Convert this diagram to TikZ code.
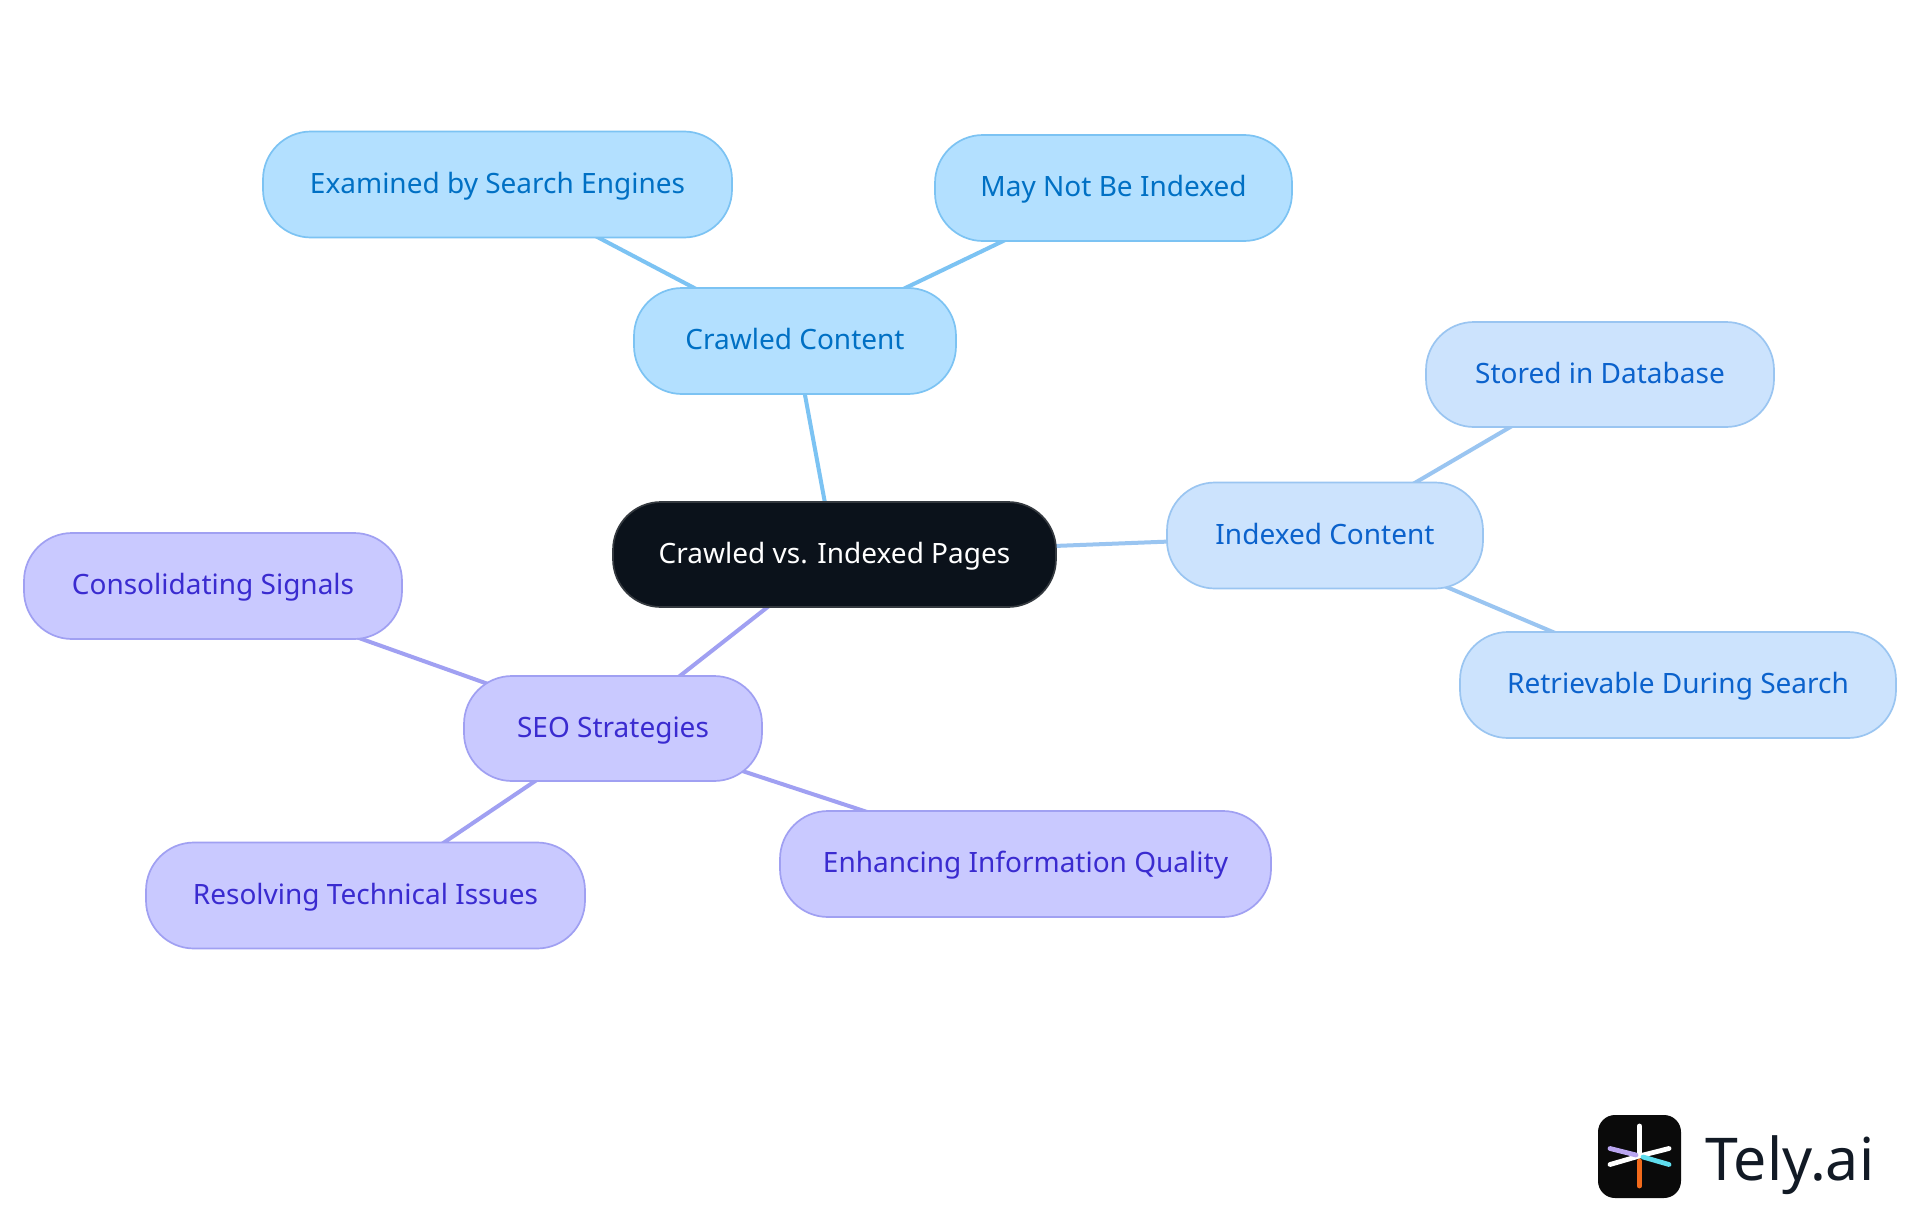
\documentclass[tikz,border=0pt]{standalone}
\usepackage{fontspec}
\setmainfont{Noto Sans}
\usetikzlibrary{backgrounds}
\definecolor{rootfill}{HTML}{0B121B}
\definecolor{rootline}{HTML}{34393F}
\definecolor{afill}{HTML}{B3E0FF}
\definecolor{aline}{HTML}{7CC3F3}
\definecolor{atext}{HTML}{0070C4}
\definecolor{bfill}{HTML}{CCE3FD}
\definecolor{bline}{HTML}{9AC5F1}
\definecolor{btext}{HTML}{0B62CC}
\definecolor{cfill}{HTML}{C9C9FF}
\definecolor{cline}{HTML}{A0A0F2}
\definecolor{ctext}{HTML}{3A2BD0}
\definecolor{logoorange}{HTML}{F26A1B}
\definecolor{logocyan}{HTML}{5FDDEE}
\definecolor{logolav}{HTML}{B9A5F0}
\definecolor{logodark}{HTML}{0A0A0A}
\definecolor{logotext}{HTML}{121A25}
\tikzset{
  x=1pt,y=-1pt,
  pill/.style={rounded corners=48pt,line width=1.7pt,inner sep=0pt,align=center,text height=22pt,text depth=5pt,font=\fontsize{28}{30}\selectfont},
  rootpill/.style={pill,draw=rootline,fill=rootfill,text=white},
  apill/.style={pill,draw=aline,fill=afill,text=atext},
  bpill/.style={pill,draw=bline,fill=bfill,text=btext},
  cpill/.style={pill,draw=cline,fill=cfill,text=ctext},
  aedge/.style={draw=aline,line width=4pt},
  bedge/.style={draw=bline,line width=4pt},
  cedge/.style={draw=cline,line width=4pt},
  spoke/.style={line width=4.8pt,line cap=round},
}
\begin{document}
\begin{tikzpicture}
\useasboundingbox (0,0) rectangle (1920,1215);
\node[rootpill,minimum width=443pt,minimum height=105pt] (root) at (834.5,554.5) {Crawled vs. Indexed Pages};
\node[apill,minimum width=322pt,minimum height=106pt] (crawled) at (795,341) {Crawled Content};
\node[apill,minimum width=469pt,minimum height=106pt] (examined) at (497.5,184.5) {Examined by Search Engines};
\node[apill,minimum width=357pt,minimum height=106pt] (maynot) at (1113.5,188) {May Not Be Indexed};
\node[bpill,minimum width=316pt,minimum height=106pt] (indexed) at (1325,535.5) {Indexed Content};
\node[bpill,minimum width=348pt,minimum height=105pt] (stored) at (1600,374.5) {Stored in Database};
\node[bpill,minimum width=436pt,minimum height=106pt] (retrieve) at (1678,685) {Retrievable During Search};
\node[cpill,minimum width=298pt,minimum height=105pt] (seo) at (613,728.5) {SEO Strategies};
\node[cpill,minimum width=378pt,minimum height=106pt] (consol) at (213,586) {Consolidating Signals};
\node[cpill,minimum width=439pt,minimum height=106pt] (resolve) at (365.5,895.5) {Resolving Technical Issues};
\node[cpill,minimum width=491pt,minimum height=106pt] (enhance) at (1025.5,864) {Enhancing Information Quality};
\begin{scope}[on background layer]
\fill[white] (0,0) rectangle (1920,1215);
\draw[aedge] (root.center) -- (crawled.center);
\draw[aedge] (crawled.center) -- (examined.center);
\draw[aedge] (crawled.center) -- (maynot.center);
\draw[bedge] (root.center) -- (indexed.center);
\draw[bedge] (indexed.center) -- (stored.center);
\draw[bedge] (indexed.center) -- (retrieve.center);
\draw[cedge] (root.center) -- (seo.center);
\draw[cedge] (seo.center) -- (consol.center);
\draw[cedge] (seo.center) -- (resolve.center);
\draw[cedge] (seo.center) -- (enhance.center);
\end{scope}
% logo
\fill[logodark,rounded corners=17pt] (1598,1115) rectangle (1681,1198);
\draw[spoke,white] (1639.3,1156) -- (1639.3,1126);
\draw[spoke,white] (1639.3,1156) -- (1610,1164.5);
\draw[spoke,white] (1639.3,1156) -- (1669,1148.5);
\draw[spoke,logolav] (1636,1155) -- (1610,1148.5);
\draw[spoke,logocyan] (1643,1157) -- (1669,1164.5);
\draw[spoke,logoorange] (1639.3,1161) -- (1639.3,1186);
\node[anchor=base west,inner sep=0pt,text=logotext,font=\fontsize{59}{62}\selectfont] (brand) at (1705,1180) {Tely.ai};
\end{tikzpicture}
\end{document}
